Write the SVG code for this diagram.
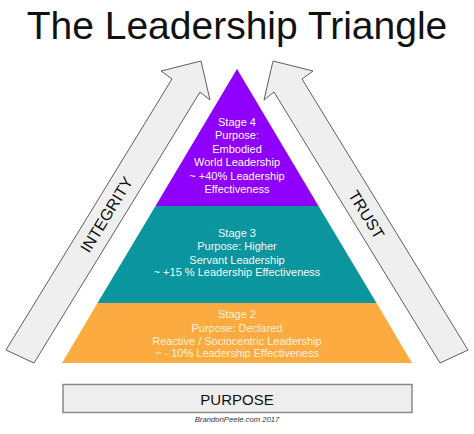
<svg xmlns="http://www.w3.org/2000/svg" width="474" height="434" viewBox="0 0 474 434">
  <style>
    text { font-family: "Liberation Sans", Arial, sans-serif; text-anchor: middle; }
    .arrow { fill: #efefef; stroke: #5f5f5f; stroke-width: 1; stroke-linejoin: miter; }
    .arrowlabel { font-size: 16px; fill: #111; }
    .stage { font-size: 11px; }
    .s4 { fill: #ffffff; }
    .s3 { fill: #f2fafa; }
    .s2 { fill: #fdf1df; }
  </style>
  <rect width="474" height="434" fill="#ffffff"/>

  <g id="title">
    <text x="237" y="39" font-size="39" fill="#111">The Leadership Triangle</text>
  </g>

  <g id="arrow-integrity">
    <polygon class="arrow" points="201,61 210,100 200,92 34,363 6,350 172,79 161,71"/>
    <text class="arrowlabel" transform="translate(106.5,214.5) rotate(-58.5)" x="0" y="5.7">INTEGRITY</text>
  </g>

  <g id="arrow-trust">
    <polygon class="arrow" points="273,61 264,100 274,92 440,363 468,350 302,79 313,71"/>
    <text class="arrowlabel" transform="translate(366.5,214.5) rotate(58.5)" x="0" y="5.7">TRUST</text>
  </g>

  <g id="stage4">
    <polygon points="237,69 318.5,206 155.5,206" fill="#8e00fb"/>
    <text class="stage s4" x="237" y="125.5">Stage 4</text>
    <text class="stage s4" x="237" y="139">Purpose:</text>
    <text class="stage s4" x="237" y="152.5">Embodied</text>
    <text class="stage s4" x="237" y="166">World Leadership</text>
    <text class="stage s4" x="237" y="179.5">~ +40% Leadership</text>
    <text class="stage s4" x="237" y="192.5">Effectiveness</text>
  </g>

  <g id="stage3">
    <polygon points="155.5,206 318.5,206 376.5,303 97.5,303" fill="#0b959f"/>
    <text class="stage s3" x="237" y="237.3">Stage 3</text>
    <text class="stage s3" x="237" y="250.3">Purpose: Higher</text>
    <text class="stage s3" x="237" y="263.8">Servant Leadership</text>
    <text class="stage s3" x="237" y="276.3">~ +15 % Leadership Effectiveness</text>
  </g>

  <g id="stage2">
    <polygon points="97.5,303 376.5,303 412,363 62,363" fill="#fcab40"/>
    <text class="stage s2" x="237" y="318.3">Stage 2</text>
    <text class="stage s2" x="237" y="331.7">Purpose: Declared</text>
    <text class="stage s2" x="237" y="345">Reactive / Sociocentric Leadership</text>
    <text class="stage s2" x="237" y="357.3">~ - 10% Leadership Effectiveness</text>
  </g>

  <g id="purpose">
    <rect x="63" y="384.5" width="349" height="28" fill="#eeeeee" stroke="#8a8a8a" stroke-width="1.5"/>
    <text x="237" y="404.5" font-size="15" fill="#111">PURPOSE</text>
  </g>

  <g id="credit">
    <text x="237" y="422" font-size="7.7" font-style="italic" fill="#333">BrandonPeele.com 2017</text>
  </g>
</svg>
